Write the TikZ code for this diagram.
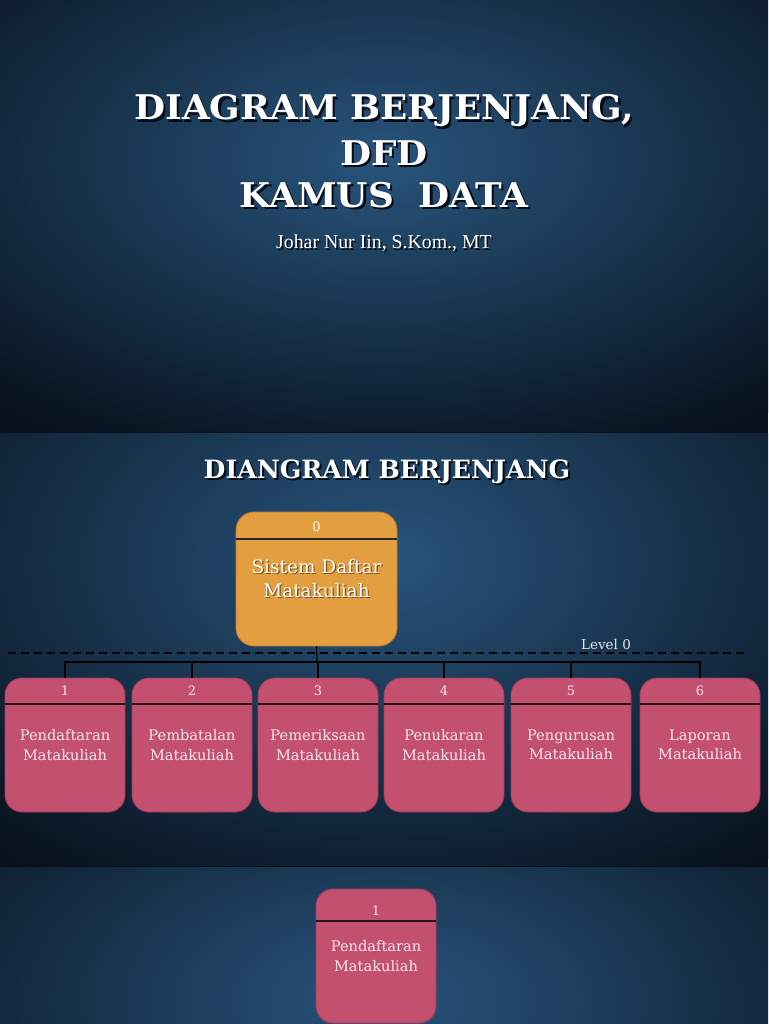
\documentclass[tikz,border=0pt]{standalone}
\usepackage{fontspec}
\usetikzlibrary{calc}
\setmainfont{DejaVu Serif}
\newfontfamily\titlefont{DejaVu Serif}
\newfontfamily\widetitlefont{DejaVu Serif}[FakeStretch=1.053]
\newfontfamily\subfont{Liberation Serif}
\newfontfamily\boxfont{DejaVu Serif}
\definecolor{bgdark}{RGB}{7,16,27}
\definecolor{bglite}{RGB}{40,84,124}
\definecolor{orangebox}{RGB}{227,158,64}
\definecolor{orangeedge}{RGB}{190,125,45}
\definecolor{pinkbox}{RGB}{196,80,112}
\definecolor{pinkedge}{RGB}{160,60,88}
\definecolor{pinktext}{RGB}{250,228,236}
\definecolor{shadowcol}{RGB}{8,12,20}
\definecolor{rootshadow}{RGB}{120,80,30}
% text with a drop shadow, in one box
\newcommand\shadowed[3]{\leavevmode\rlap{\kern#1\raisebox{-#1}{\color{#2}#3}}#3}
\tikzset{
  titletext/.style={text=white,font=\widetitlefont\bfseries\fontsize{34}{38}\selectfont,inner sep=0pt},
  headtext/.style={text=white,font=\titlefont\bfseries\fontsize{25.2}{30}\selectfont,inner sep=0pt},
  subtext/.style={text=white,font=\subfont\fontsize{19.8}{23}\selectfont,inner sep=0pt},
  rootbox/.style={fill=orangebox,draw=orangeedge,line width=0.8pt,rounded corners=18pt,minimum width=161pt,minimum height=134pt,inner sep=0pt},
  procbox/.style={fill=pinkbox,draw=pinkedge,line width=0.8pt,rounded corners=17pt,minimum width=120pt,minimum height=134pt,inner sep=0pt},
  roottext/.style={text=white,font=\boxfont\fontsize{18.5}{24}\selectfont,inner sep=0pt},
  proctext/.style={text=pinktext,font=\boxfont\fontsize{14.6}{19.5}\selectfont,align=center,inner sep=0pt},
  numtext/.style={text=pinktext,font=\boxfont\fontsize{13}{14}\selectfont,inner sep=0pt},
  divider/.style={line width=1.2pt,draw=black!85},
  pdivider/.style={line width=1.2pt,draw=black!80!pinkbox},
  conn/.style={line width=1.1pt,draw=black},
  levelline/.style={line width=1.6pt,draw=black,dash pattern=on 8pt off 5pt},
}
\begin{document}
\begin{tikzpicture}[x=1pt,y=-1pt]
\useasboundingbox (0,0) rectangle (768,1024);
% backgrounds
\fill[bgdark] (0,0) rectangle (768,1024);
\begin{scope}
  \clip (0,0) rectangle (768,431);
  \shade[inner color=bglite,outer color=bgdark] (384,160) ellipse (600 and 330);
\end{scope}
\begin{scope}
  \clip (0,433) rectangle (768,865);
  \shade[inner color=bglite,outer color=bgdark] (384,560) ellipse (600 and 390);
\end{scope}
\begin{scope}
  \clip (0,867) rectangle (768,1024);
  \shade[inner color=bglite,outer color=bgdark] (384,1000) ellipse (600 and 330);
\end{scope}

% slide 1
\node[titletext] (t1) at (384,112) {\shadowed{2.2pt}{shadowcol}{DIAGRAM BERJENJANG,}};
\node[titletext] (t2) at (384,154) {\shadowed{2.2pt}{shadowcol}{DFD}};
\node[titletext] (t3) at (384,196) {\shadowed{2.2pt}{shadowcol}{KAMUS\ \ DATA}};
\node[subtext] (author) at (384,244) {\shadowed{1.5pt}{shadowcol}{Johar Nur Iin, S.Kom., MT}};

% slide 2
\node[headtext] (head) at (387,473) {\shadowed{2pt}{shadowcol}{DIANGRAM BERJENJANG}};

\node[rootbox] (root) at (316.5,579) {};
\draw[divider] (root.west |- 0,539) -- (root.east |- 0,539);
\node[numtext,text=white] (n0) at (316.5,527) {0};
\node[roottext] (rootl1) at (316.5,567) {\shadowed{1.2pt}{rootshadow}{Sistem Daftar}};
\node[roottext] (rootl2) at (316.5,591) {\shadowed{1.2pt}{rootshadow}{Matakuliah}};

\draw[levelline] (8,653) -- (745,653);
\node[text=white!90!black,font=\boxfont\fontsize{13.5}{15}\selectfont,inner sep=0pt] (lvl) at (606,644) {Level 0};

\foreach \i/\x/\lbl in {1/65/{Pendaftaran\\Matakuliah},2/192/{Pembatalan\\Matakuliah},3/318/{Pemeriksaan\\Matakuliah},4/444/{Penukaran\\Matakuliah},5/571/{Pengurusan\\Matakuliah},6/700/{Laporan\\Matakuliah}}{
  \node[procbox] (p\i) at (\x,745) {};
  \draw[pdivider] (p\i.west |- 0,704) -- (p\i.east |- 0,704);
  \node[numtext] (n\i) at (\x,691) {\i};
  \node[proctext] (l\i) at (\x,745) {\lbl};
}
\coordinate (bus) at (317,662);
\draw[conn] (root.south) -- (bus);
\draw[conn] (p1.north) -- (p1.north |- bus) -- (p6.north |- bus) -- (p6.north);
\foreach \i in {2,3,4,5}{\draw[conn] (p\i.north) -- (p\i.north |- bus);}

% slide 3
\node[procbox] (q1) at (376,956) {};
\draw[pdivider] (q1.west |- 0,921) -- (q1.east |- 0,921);
\node[numtext] (qn1) at (376,911) {1};
\node[proctext] (ql1) at (376,956) {Pendaftaran\\Matakuliah};
\end{tikzpicture}
\end{document}
